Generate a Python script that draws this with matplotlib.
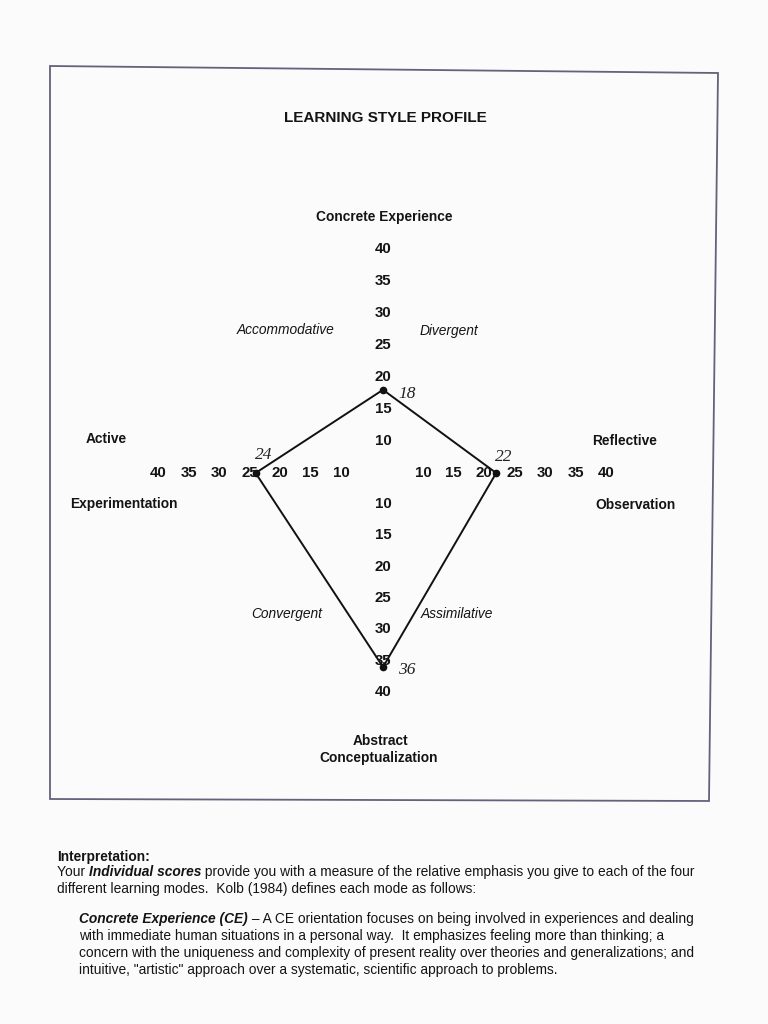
import matplotlib
matplotlib.use('Agg')
from matplotlib import pyplot as plt
from matplotlib.patches import Polygon

plt.rcParams['font.family'] = ['Liberation Sans', 'DejaVu Sans']

# scores written on the profile, order: CE, RO, AC, AE
scales = ['CE', 'RO', 'AC', 'AE']
scores = [18, 22, 36, 24]
score_notes = ['18', '22', '36', '24']

# numbers printed along each arm
tick_values = [10, 15, 20, 25, 30, 35, 40]

quadrant_names = ['Accommodative', 'Divergent', 'Convergent', 'Assimilative']

body_lines = [
    'different learning modes.  Kolb (1984) defines each mode as follows:',
    'with immediate human situations in a personal way.  It emphasizes feeling more than thinking; a',
    'concern with the uniqueness and complexity of present reality over theories and generalizations; and',
    'intuitive, "artistic" approach over a systematic, scientific approach to problems.',
]

# page layout (pixels, y downwards)
CX, CY = 383, 473
# direction x, direction y, distance of the "10" tick, pixels per point
arms = {
    'CE': (0, -1, 32, 6.4),
    'RO': (1, 0, 40, 6.1),
    'AC': (0, 1, 31, 6.27),
    'AE': (-1, 0, 42, 6.1),
}

INK = '#141414'


def to_page(scale, value):
    dx, dy, start, step = arms[scale]
    r = start + (value - 10) * step
    return CX + dx * r, CY + dy * r


def chain(ax, pieces, x, y, size):
    """write (text, weight, style) pieces one after another on one line"""
    prev = None
    for txt, weight, style in pieces:
        if prev is None:
            prev = ax.text(x, y, txt, fontsize=size, fontweight=weight,
                           fontstyle=style, ha='left', va='center', color=INK)
        else:
            prev = ax.annotate(txt, xy=(1, 0.5), xycoords=prev, fontsize=size,
                               fontweight=weight, fontstyle=style,
                               ha='left', va='center', color=INK)
    return prev


fig = plt.figure(figsize=(7.68, 10.24), dpi=100)
fig.patch.set_facecolor('#fbfbfb')
ax = fig.add_axes([0, 0, 1, 1])
ax.set_xlim(0, 768)
ax.set_ylim(1024, 0)
ax.axis('off')

# frame of the profile sheet
frame = Polygon([(50, 66), (718, 73), (709, 801), (50, 799)], closed=True,
                fill=False, edgecolor='#66617a', linewidth=1.3)
ax.add_patch(frame)

ax.text(385, 118, 'LEARNING STYLE PROFILE', fontsize=11, fontweight='bold',
        ha='center', va='center', color=INK)

# tick numbers on the four arms
for s in scales:
    for v in tick_values:
        x, y = to_page(s, v)
        ax.text(x, y, str(v), fontsize=10.8, fontweight='bold',
                ha='center', va='center', color=INK)

# arm titles
lab = dict(fontsize=9.9, fontweight='bold', ha='center', va='center', color=INK)
ax.text(384, 217, 'Concrete Experience', **lab)
ax.text(106, 439, 'Active', **lab)
ax.text(124, 504, 'Experimentation', **lab)
ax.text(625, 441, 'Reflective', **lab)
ax.text(635, 505, 'Observation', **lab)
ax.text(380, 741, 'Abstract', **lab)
ax.text(379, 758, 'Conceptualization', **lab)

# quadrant names
quad_pos = [(286, 330), (449, 331), (287, 614), (457, 614)]
for name, (qx, qy) in zip(quadrant_names, quad_pos):
    ax.text(qx, qy, name, fontsize=9.9, fontstyle='italic',
            ha='center', va='center', color=INK)

# the hand drawn profile
pts = [to_page(s, v) for s, v in zip(scales, scores)]
xs = [p[0] for p in pts] + [pts[0][0]]
ys = [p[1] for p in pts] + [pts[0][1]]
ax.plot(xs, ys, color='#111111', linewidth=1.4, solid_joinstyle='round')
ax.plot(xs[:-1], ys[:-1], 'o', color='#111111', markersize=4.5, linestyle='none')

# handwritten scores next to the dots
note_off = {'CE': (24, 4), 'RO': (8, -16), 'AC': (24, 3), 'AE': (8, -18)}
for s, (px, py), note in zip(scales, pts, score_notes):
    ox, oy = note_off[s]
    ax.text(px + ox, py + oy, note, fontsize=12.5, fontstyle='italic',
            family='Liberation Serif', ha='center', va='center', color='#222222')

# interpretation text under the frame
size = 9.9
ax.text(57, 857, 'Interpretation:', fontsize=size, fontweight='bold',
        ha='left', va='center', color=INK)
chain(ax, [('Your ', 'normal', 'normal'),
           ('Individual scores', 'bold', 'italic'),
           (' provide you with a measure of the relative emphasis you give to each of the four',
            'normal', 'normal')], 57, 872, size)
ax.text(57, 889, body_lines[0], fontsize=size, ha='left', va='center', color=INK)
chain(ax, [('Concrete Experience (CE)', 'bold', 'italic'),
           (' \u2013 A CE orientation focuses on being involved in experiences and dealing',
            'normal', 'normal')], 79, 919, size)
for i, line in enumerate(body_lines[1:]):
    ax.text(79, 936 + 17 * i, line, fontsize=size, ha='left', va='center', color=INK)

fig.savefig('out.png', dpi=100, facecolor=fig.get_facecolor())
